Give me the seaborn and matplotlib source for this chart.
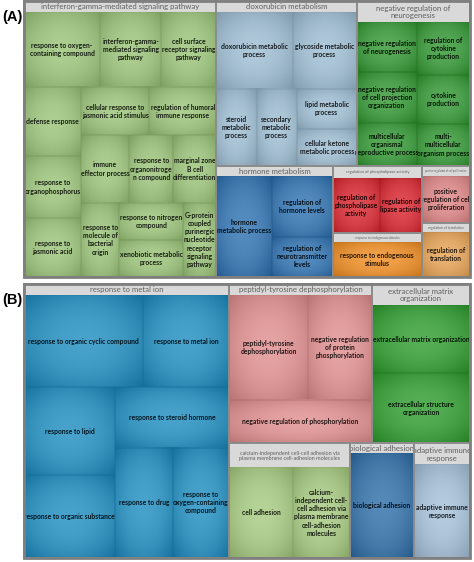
import numpy as np
import matplotlib.pyplot as plt
import seaborn as sns
from matplotlib.colors import to_rgb
from matplotlib.patches import Rectangle

sns.set_theme(style='white')
plt.rcParams['font.family'] = ['Lato', 'DejaVu Sans']

#================================================================================================
# Data: REVIGO treemap terms and tile sizes
#================================================================================================

# ---- (A) ----
ifn_terms = ["response to oxygen-\ncontaining compound", "interferon-gamma-\nmediated signaling\npathway",
             "cell surface\nreceptor signaling\npathway", "defense response", "response to\norganophosphorus",
             "response to\njasmonic acid", "cellular response to\njasmonic acid stimulus",
             "regulation of humoral\nimmune response", "immune\neffector process",
             "response to\norganonitroge\nn compound", "marginal zone\nB cell\ndifferentiation",
             "response to\nmolecule of\nbacterial\norigin", "response to nitrogen\ncompound",
             "xenobiotic metabolic\nprocess",
             "G-protein\ncoupled\npurinergic\nnucleotide\nreceptor\nsignaling\npathway"]
ifn_sizes = [59.6, 47.8, 43.1, 41.1, 36.4, 35.2, 34.1, 33.6, 33.6, 30.8, 30.1, 29.4, 24.8, 24.8, 25.5]

doxo_terms = ["doxorubicin metabolic\nprocess", "glycoside metabolic\nprocess", "steroid\nmetabolic\nprocess",
              "secondary\nmetabolic\nprocess", "lipid metabolic\nprocess", "cellular ketone\nmetabolic process"]
doxo_sizes = [62.3, 52.5, 33.2, 33.2, 25.9, 23.9]

neuro_terms = ["negative regulation\nof neurogenesis", "negative regulation\nof cell projection\norganization",
               "multicellular\norganismal\nreproductive process", "regulation of\ncytokine\nproduction",
               "cytokine\nproduction", "multi-\nmulticellular\norganism process"]
neuro_sizes = [34.6, 34.6, 29.8, 32.4, 29.4, 25.7]

hormone_terms = ["hormone\nmetabolic process", "regulation of\nhormone levels",
                 "regulation of\nneurotransmitter\nlevels"]
hormone_sizes = [61.0, 40.6, 27.1]

phospho_terms = ["regulation of\nphospholipase\nactivity", "regulation of\nlipase activity"]
phospho_sizes = [31.5, 28.1]

endog_terms = ["response to endogenous\nstimulus"]
endog_sizes = [39.2]

prolif_terms = ["positive\nregulation of cell\nproliferation"]
prolif_sizes = [27.4]

transl_terms = ["regulation of\ntranslation"]
transl_sizes = [25.9]

# ---- (B) ----
metal_terms = ["response to organic cyclic compound", "response to metal ion", "response to lipid",
               "response to organic substance", "response to steroid hormone", "response to drug",
               "response to\noxygen-containing\ncompound"]
metal_sizes = [114.7, 82.9, 83.9, 79.1, 71.7, 66.8, 64.5]

pept_terms = ["peptidyl-tyrosine\ndephosphorylation", "negative regulation\nof protein\nphosphorylation",
              "negative regulation of phosphorylation"]
pept_sizes = [89.7, 72.6, 66.5]

ecm_terms = ["extracellular matrix organization", "extracellular structure\norganization"]
ecm_sizes = [77.3, 79.5]

calc_terms = ["cell adhesion", "calcium-\nindependent cell-\ncell adhesion via\nplasma membrane\ncell-adhesion\nmolecules"]
calc_sizes = [73.6, 65.5]

bio_terms = ["biological adhesion"]
bio_sizes = [73.6]

adapt_terms = ["adaptive immune\nresponse"]
adapt_sizes = [64.4]

#================================================================================================
# Groups: title, terms, sizes, tile arrangement, colour, header height, header font size
#================================================================================================

groups = {
    'ifn': ("interferon-gamma-mediated signaling pathway", ifn_terms, ifn_sizes,
            ('v', [('h', [0, 1, 2]), ('h', [('v', [3, 4, 5]),
                   ('v', [('h', [6, 7]), ('h', [8, 9, 10]), ('h', [11, ('v', [12, 13]), 14])])])]),
            '#98c275', 11, 5.6),
    'doxo': ("doxorubicin metabolism", doxo_terms, doxo_sizes,
             ('v', [('h', [0, 1]), ('h', [2, 3, ('v', [4, 5])])]), '#9bbcd2', 11, 5.6),
    'neuro': ("negative regulation of\nneurogenesis", neuro_terms, neuro_sizes,
              ('h', [('v', [0, 1, 2]), ('v', [3, 4, 5])]), '#2e952e', 21, 5.6),
    'hormone': ("hormone metabolism", hormone_terms, hormone_sizes,
                ('h', [0, ('v', [1, 2])]), '#2a6fb0', 10, 5.6),
    'phospho': ("regulation of phospholipase activity", phospho_terms, phospho_sizes,
                ('h', [0, 1]), '#d9202a', 12, 3.0),
    'endog': ("response to endogenous stimulus", endog_terms, endog_sizes, 0, '#ef8a1c', 9, 2.2),
    'prolif': ("positive regulation of cell proliferation", prolif_terms, prolif_sizes, 0,
               '#de8282', 10, 1.8),
    'transl': ("regulation of translation", transl_terms, transl_sizes, 0, '#e6a050', 9, 2.4),
    'metal': ("response to metal ion", metal_terms, metal_sizes,
              ('v', [('h', [0, 1]), ('h', [('v', [2, 3]), ('v', [4, ('h', [5, 6])])])]),
              '#1a8bbf', 11, 5.6),
    'pept': ("peptidyl-tyrosine dephosphorylation", pept_terms, pept_sizes,
             ('v', [('h', [0, 1]), 2]), '#e08c8c', 11, 5.6),
    'ecm': ("extracellular matrix\norganization", ecm_terms, ecm_sizes, ('v', [0, 1]), '#2b9b2b', 21, 5.6),
    'calc': ("calcium-independent cell-cell adhesion via\nplasma membrane cell-adhesion molecules",
             calc_terms, calc_sizes, ('h', [0, 1]), '#a5c97e', 24, 3.9),
    'bio': ("biological adhesion", bio_terms, bio_sizes, 0, '#2a6ba6', 10, 5.6),
    'adapt': ("adaptive immune\nresponse", adapt_terms, adapt_sizes, 0, '#a3bfd8', 21, 5.6),
}

panels = [
    ("(A)", ('h', ['ifn', ('v', [('h', ['doxo', 'neuro']),
                                 ('h', ['hormone', ('v', ['phospho', 'endog']), ('v', ['prolif', 'transl'])])])]),
     (24, 1, 446, 276)),
    ("(B)", ('h', ['metal', ('v', [('h', ['pept', 'ecm']), ('h', ['calc', 'bio', 'adapt'])])]),
     (24, 284, 446, 274)),
]


#================================================================================================
# Slice layout
#================================================================================================

def node_size(node, size_of):
    if isinstance(node, tuple):
        return sum(node_size(c, size_of) for c in node[1])
    return size_of(node)


def split(node, x, y, w, h, size_of, out):
    if not isinstance(node, tuple):
        out.append((node, x, y, w, h))
        return
    d, kids = node
    tot = sum(node_size(k, size_of) for k in kids)
    pos = 0.0
    for k in kids:
        f = node_size(k, size_of) / tot
        if d == 'h':
            split(k, x + pos * w, y, f * w, h, size_of, out)
        else:
            split(k, x, y + pos * h, w, f * h, size_of, out)
        pos += f


# cushion shading
uu, vv = np.meshgrid(np.linspace(-1, 1, 48), np.linspace(-1, 1, 48))
d2 = ((uu ** 2 + vv ** 2) / 2)[..., None]


def cushion(color):
    base = np.array(to_rgb(color))
    light = base + (1 - base) * 0.2
    dark = base * 0.82
    return np.clip(light * (1 - d2) + dark * d2, 0, 1)


fig = plt.figure(figsize=(4.74, 5.62), dpi=100)
ax = fig.add_axes([0, 0, 1, 1])

for tag, tree, (px, py, pw, ph) in panels:
    group_rects = []
    split(tree, px, py, pw, ph, lambda k: sum(groups[k][2]), group_rects)
    for key, gx, gy, gw, gh in group_rects:
        title, terms, sizes, ttree, color, hh, hfs = groups[key]
        tiles = []
        split(ttree, gx, gy + hh, gw, gh - hh, lambda i: sizes[i], tiles)
        img = cushion(color)
        txt_col = np.array(to_rgb(color)) * 0.16
        for i, tx, ty, tw, th in tiles:
            ax.imshow(img, extent=(tx, tx + tw, ty + th, ty), aspect='auto',
                      interpolation='bilinear', zorder=1)
            ax.add_patch(Rectangle((tx, ty), tw, th, fill=False,
                                   edgecolor=np.array(to_rgb(color)) * 0.8, lw=0.3, zorder=2))
            ax.text(tx + tw / 2, ty + th / 2, terms[i], ha='center', va='center',
                    fontsize=4.9, fontweight='bold', color=txt_col, linespacing=1.2, zorder=3)
        # group header
        ax.add_patch(Rectangle((gx, gy), gw, hh, facecolor='#d9d9d9', edgecolor='none', zorder=2))
        ax.text(gx + gw / 2, gy + hh / 2 + 0.3, title, ha='center', va='center', fontsize=hfs,
                color='#5f5f5f', linespacing=1.1, zorder=3)
        ax.add_patch(Rectangle((gx, gy), gw, gh, fill=False, edgecolor='#8c8c8c', lw=1.3, zorder=4))
    ax.add_patch(Rectangle((px, py), pw, ph, fill=False, edgecolor='#7f7f7f', lw=2, zorder=5))
    ax.text(12, py + 16, tag, ha='center', va='center', fontsize=10.5, fontweight='bold',
            family=['Liberation Sans', 'DejaVu Sans'], color='black')

ax.set_xlim(0, 474)
ax.set_ylim(562, 0)
ax.axis('off')
fig.patch.set_facecolor('white')

plt.savefig('out.png', dpi=100)
plt.close()
